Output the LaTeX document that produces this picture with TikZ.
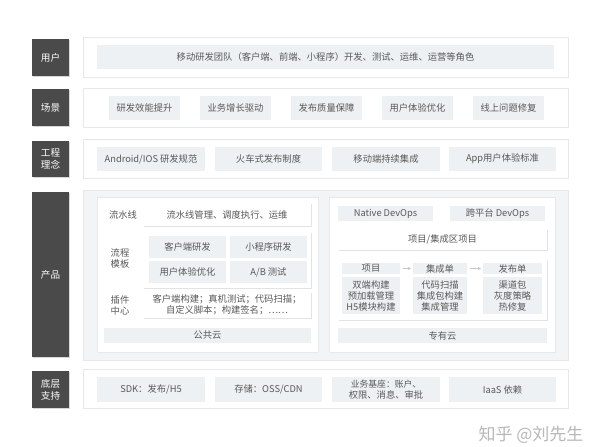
\documentclass[tikz,border=0pt]{standalone}
\usepackage{fontspec}
\setmainfont{Noto Sans CJK SC}
\usetikzlibrary{shapes.misc,shadows,arrows.meta}
\definecolor{labdark}{HTML}{4A4A4A}
\definecolor{itemgray}{HTML}{EEF1F3}
\definecolor{txt}{HTML}{585858}
\definecolor{prodbg}{HTML}{F3F4F6}
\definecolor{edge}{HTML}{E6E8EA}
\newcommand\boxat[7]{%
  \pgfmathsetmacro\bxw{#5-#3}\pgfmathsetmacro\bxh{#6-#4}%
  \pgfmathsetmacro\bxx{(#3+#5)/2}\pgfmathsetmacro\bxy{(#4+#6)/2}%
  \node[#1, minimum width=\bxw pt, minimum height=\bxh pt] (#2) at (\bxx,\bxy) {#7};}
\begin{document}
\begin{tikzpicture}[x=1pt,y=-1pt,
  every node/.style={inner sep=0pt, outer sep=0pt, text=txt, font=\fontsize{9.3}{11}\selectfont, align=center},
  lab/.style={fill=labdark, text=white, font=\fontsize{9.6}{12}\selectfont,
    drop shadow={shadow xshift=1pt, shadow yshift=-1.2pt, opacity=0.3}},
  rowbox/.style={chamfered rectangle, chamfered rectangle corners=north east,
    chamfered rectangle sep=7pt, fill=white, draw=edge, line width=0.8pt},
  prodbox/.style={rowbox, fill=prodbg},
  panel/.style={chamfered rectangle, chamfered rectangle corners=north east,
    chamfered rectangle sep=5pt, fill=white, draw=edge, line width=0.6pt},
  item/.style={fill=itemgray},
  card/.style={fill=white, drop shadow={shadow xshift=0.6pt, shadow yshift=-1pt, opacity=0.22}},
  side/.style={text=txt},
  arr/.style={-{Stealth[length=3pt,width=3pt]}, draw=black!22, line width=0.6pt},
]
\useasboundingbox[fill=white] (0,0) rectangle (600,447);

% left dark labels
\boxat{lab}{l1}{32}{39}{69}{76}{用户}
\boxat{lab}{l2}{32}{89}{69}{126}{场景}
\boxat{lab}{l3}{32}{141}{69}{177}{工程\\理念}
\boxat{lab}{l4}{32}{192}{69}{357}{产品}
\boxat{lab}{l5}{32}{371}{69}{408}{底层\\支持}

% row containers
\boxat{rowbox}{c1}{83}{37}{568}{77}{}
\boxat{rowbox}{c2}{83}{88}{568}{127}{}
\boxat{rowbox}{c3}{83}{139}{568}{178}{}
\boxat{prodbox}{c4}{83}{190}{568}{360}{}
\boxat{rowbox}{c5}{83}{369}{568}{408}{}

% row 1
\boxat{item}{u1}{97}{45}{554}{69}{移动研发团队（客户端、前端、小程序）开发、测试、运维、运营等角色}

% row 2
\boxat{item}{s1}{109}{96}{180}{120}{研发效能提升}
\boxat{item}{s2}{200}{96}{271}{120}{业务增长驱动}
\boxat{item}{s3}{291}{96}{362}{120}{发布质量保障}
\boxat{item}{s4}{382}{96}{453}{120}{用户体验优化}
\boxat{item}{s5}{473}{96}{544}{120}{线上问题修复}

% row 3
\boxat{item}{e1}{97}{147}{205}{171}{Android/IOS 研发规范}
\boxat{item}{e2}{215}{147}{322}{171}{火车式发布制度}
\boxat{item}{e3}{332}{147}{440}{171}{移动端持续集成}
\boxat{item}{e4}{449}{147}{556}{171}{App用户体验标准}

% product: public cloud panel
\boxat{panel}{pl}{97}{197}{318}{352}{}
\node[side] (t1) at (123,215) {流水线};
\boxat{card}{pipe}{143}{203}{311}{226}{流水线管理、调度执行、运维}
\node[side] (t2) at (120,258) {流程\\模板};
\boxat{card}{tpl}{143}{232}{311}{288}{}
\boxat{item}{g1}{149}{236}{226}{258}{客户端研发}
\boxat{item}{g2}{230}{236}{307}{258}{小程序研发}
\boxat{item}{g3}{149}{261}{226}{283}{用户体验优化}
\boxat{item}{g4}{230}{261}{307}{283}{A/B 测试}
\node[side] (t3) at (120,305) {插件\\中心};
\boxat{card}{plug}{143}{292}{311}{318}{客户端构建；真机测试；代码扫描；\\自定义脚本；构建签名；……}
\boxat{item}{pub}{104}{328}{311}{343}{公共云}

% product: private cloud panel
\boxat{panel}{pr}{329}{197}{555}{352}{}
\boxat{item}{nd}{338}{206}{433}{221}{Native DevOps}
\boxat{item}{xd}{450}{206}{545}{221}{跨平台 DevOps}
\boxat{card}{proj}{338}{229}{547}{250}{项目/集成区项目}
\boxat{card}{flow}{338}{259}{547}{320}{}
\boxat{item}{h1}{342}{263}{400}{274}{项目}
\boxat{item}{h2}{413}{263}{467}{274}{集成单}
\boxat{item}{h3}{483}{263}{542}{274}{发布单}
\boxat{item}{b1}{342}{277}{400}{314}{双端构建\\预加载管理\\H5模块构建}
\boxat{item}{b2}{413}{277}{467}{314}{代码扫描\\集成包构建\\集成管理}
\boxat{item}{b3}{483}{277}{542}{314}{渠道包\\灰度策略\\热修复}
\draw[arr] ([xshift=3pt]h1.east) -- ([xshift=-2pt]h2.west);
\draw[arr] ([xshift=3pt]h2.east) -- ([xshift=-2pt]h3.west);
\boxat{item}{pri}{338}{328}{547}{343}{专有云}

% row 5
\boxat{item}{d1}{97}{377}{205}{402}{SDK：发布/H5}
\boxat{item}{d2}{215}{377}{322}{402}{存储：OSS/CDN}
\boxat{item}{d3}{332}{377}{440}{402}{\fontsize{8.8}{10.5}\selectfont 业务基座：账户、\\权限、消息、审批}
\boxat{item}{d4}{449}{377}{556}{402}{IaaS 依赖}

% watermark
\node[text=black!28, font=\fontsize{17}{20}\selectfont] (wm) at (531,435) {知乎 @刘先生};
\end{tikzpicture}
\end{document}
